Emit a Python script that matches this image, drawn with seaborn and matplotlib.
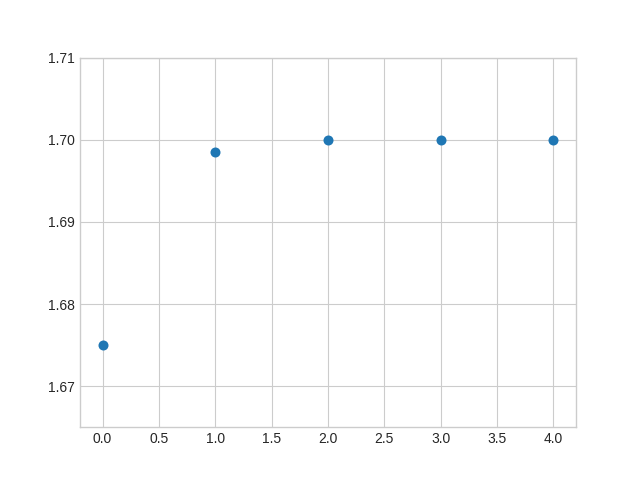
import numpy as np
import pandas as pd
import seaborn as sns
import matplotlib
matplotlib.use("Agg")
import matplotlib.pyplot as plt

# values
x_vals = [0, 1, 2, 3, 4]
y_vals = [1.675, 1.6985, 1.70, 1.70, 1.70]

data = pd.DataFrame({"x": x_vals, "y": y_vals})

plt.style.use("seaborn-v0_8-whitegrid")
fig, ax = plt.subplots(figsize=(6.4, 4.8), dpi=100)

sns.scatterplot(data=data, x="x", y="y", ax=ax, color="#1f77b4",
                s=52, linewidth=0)

ax.set_ylim(1.665, 1.71)
ax.set_yticks([1.67, 1.68, 1.69, 1.70, 1.71])
ax.set_xticks(np.arange(0, 4.01, 0.5))
ax.set_xlabel("")
ax.set_ylabel("")
for s in ax.spines.values():
    s.set_visible(True)
    s.set_color("#cccccc")

fig.savefig("out.png", dpi=100)
